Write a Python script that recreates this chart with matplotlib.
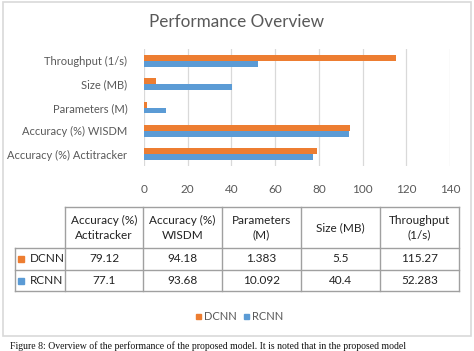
import matplotlib
matplotlib.use("Agg")
import matplotlib.pyplot as plt
from matplotlib.patches import Rectangle
from matplotlib.lines import Line2D

categories = ["Accuracy (%) Actitracker", "Accuracy (%) WISDM", "Parameters (M)", "Size (MB)", "Throughput (1/s)"]
dcnn = [79.12, 94.18, 1.383, 5.5, 115.27]
rcnn = [77.1, 93.68, 10.092, 40.4, 52.283]
series_names = ["DCNN", "RCNN"]
table_headers = ["Accuracy (%)\nActitracker", "Accuracy (%)\nWISDM", "Parameters\n(M)", "Size (MB)", "Throughput\n(1/s)"]
xticks = [0, 20, 40, 60, 80, 100, 120, 140]

ORANGE = "#ED7D31"
BLUE = "#5B9BD5"
GRAY = "#595959"
FONT = ["Lato", "DejaVu Sans"]
plt.rcParams["font.family"] = FONT

W, H = 474, 351
fig = plt.figure(figsize=(W / 100, H / 100), dpi=100)

def fx(px):
    return px / W

def fy(py):
    return 1 - py / H

# outer frame
fig.patches.append(Rectangle((fx(3), fy(336)), fx(471) - fx(3), fy(2) - fy(336),
                             transform=fig.transFigure, fill=False, edgecolor="#D9D9D9", lw=1.2))

fig.text(fx(237), fy(22), "Performance Overview", ha="center", va="center", fontsize=12.3, color=GRAY)

ax = fig.add_axes([fx(144), fy(166), fx(450) - fx(144), fy(49) - fy(166)])
h = 0.25
ypos = list(range(len(categories)))
ax.barh([y + h / 2 for y in ypos], dcnn, height=h, color=ORANGE)
ax.barh([y - h / 2 for y in ypos], rcnn, height=h, color=BLUE)
ax.set_xlim(0, 140)
ax.set_ylim(-0.5, len(categories) - 0.5)
ax.set_xticks(xticks)
ax.set_yticks(ypos)
ax.set_yticklabels(categories)
ax.tick_params(axis="both", length=0, labelsize=8, colors=GRAY)
ax.tick_params(axis="x", pad=13, labelsize=8.5)
ax.tick_params(axis="y", pad=12)
ax.grid(axis="x", color="#D9D9D9", lw=0.9)
ax.set_axisbelow(True)
for s in ax.spines.values():
    s.set_visible(False)

# table
col_x = [15, 65, 143, 222, 301, 380, 459]
row_y = [207, 248, 270, 291]
lc = "#A0A0A0"
lw = 1.0
fig.add_artist(Line2D([fx(65), fx(459)], [fy(207), fy(207)], color=lc, lw=lw))
for yy in row_y[1:]:
    fig.add_artist(Line2D([fx(15), fx(459)], [fy(yy), fy(yy)], color=lc, lw=lw))
fig.add_artist(Line2D([fx(15), fx(15)], [fy(248), fy(291)], color=lc, lw=lw))
for xx in col_x[1:]:
    fig.add_artist(Line2D([fx(xx), fx(xx)], [fy(207), fy(291)], color=lc, lw=lw))

for i, hdr in enumerate(table_headers):
    cx = (col_x[i + 1] + col_x[i + 2]) / 2
    fig.text(fx(cx), fy(228), hdr, ha="center", va="center", fontsize=8.5,
             color="#222222", linespacing=1.35)

rows = [dcnn, rcnn]
colors = [ORANGE, BLUE]
for r, (vals, name, c) in enumerate(zip(rows, series_names, colors)):
    cy = (row_y[r + 1] + row_y[r + 2]) / 2
    fig.patches.append(Rectangle((fx(18), fy(cy + 3)), fx(6), fy(0) - fy(6),
                                 transform=fig.transFigure, color=c))
    fig.text(fx(30), fy(cy), name, ha="left", va="center", fontsize=8.5, color="#222222")
    for i, v in enumerate(vals):
        cx = (col_x[i + 1] + col_x[i + 2]) / 2
        fig.text(fx(cx), fy(cy), str(v), ha="center", va="center", fontsize=8.5, color="#222222")

# legend
lx = [196, 244]
for name, c, x0 in zip(series_names, colors, lx):
    fig.patches.append(Rectangle((fx(x0), fy(319)), fx(5), fy(0) - fy(5),
                                 transform=fig.transFigure, color=c))
    fig.text(fx(x0 + 8), fy(316.5), name, ha="left", va="center", fontsize=8, color=GRAY)

# caption
fig.text(fx(10), fy(341), "Figure 8: Overview of the performance of the proposed model. It is noted that in the proposed model",
         ha="left", va="top", fontsize=7, color="#111111", family=["Liberation Serif", "DejaVu Serif"])

fig.savefig("out.png", dpi=100)
